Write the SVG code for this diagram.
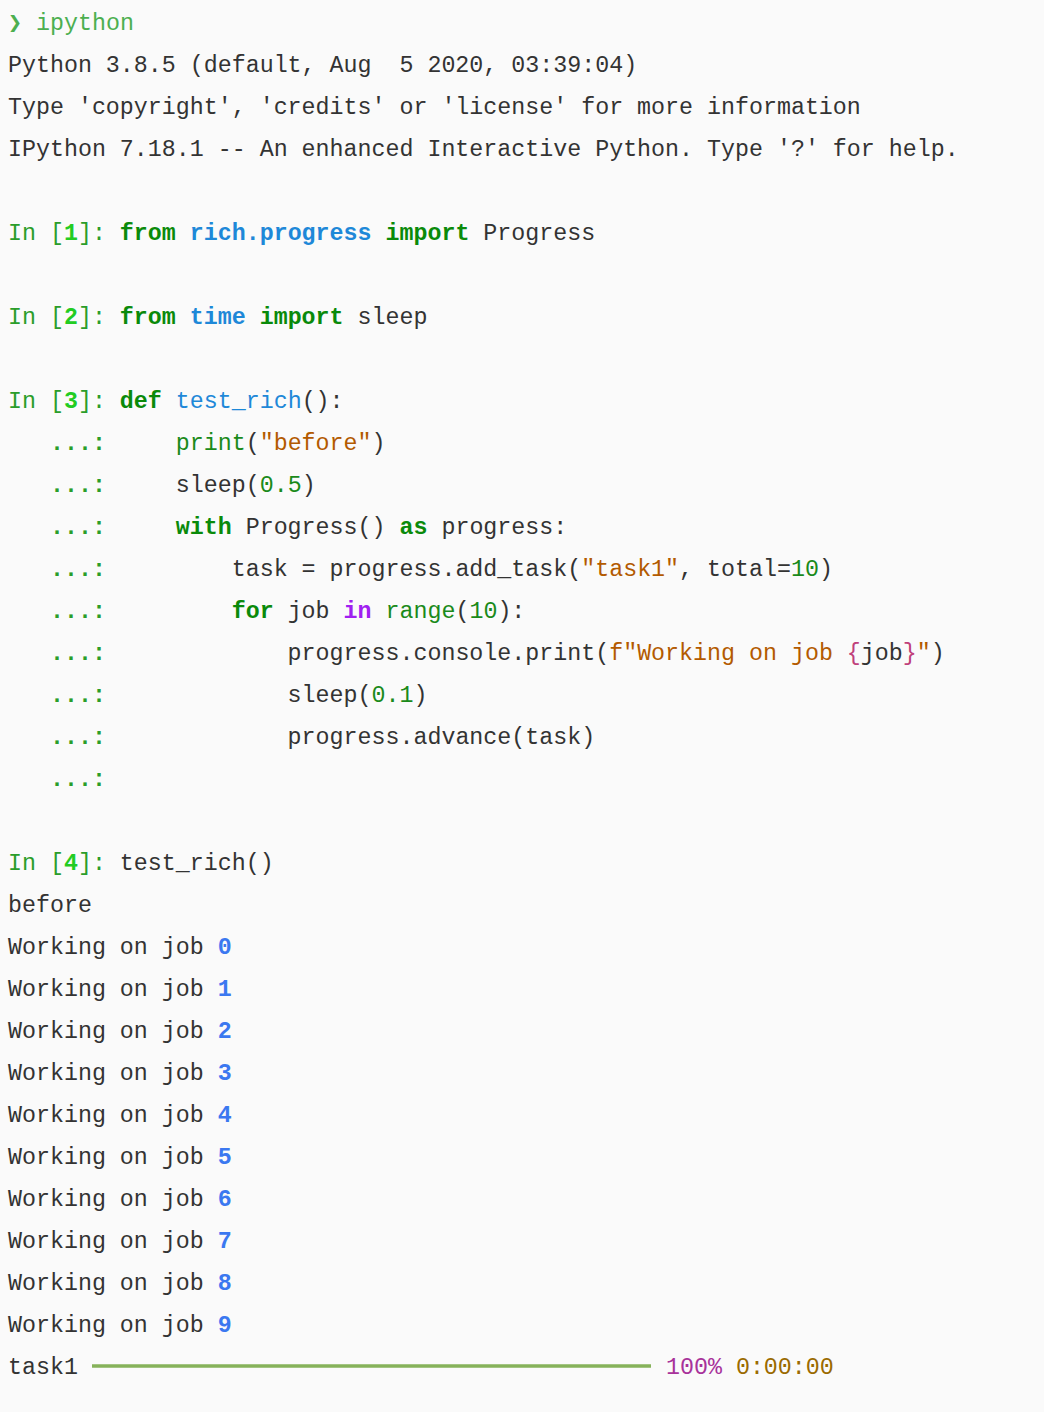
<svg xmlns="http://www.w3.org/2000/svg" width="1044" height="1412" viewBox="0 0 1044 1412">
<style>
text{font-family:"Liberation Mono","DejaVu Sans Mono",monospace;font-size:23.3px;fill:#333;white-space:pre}
.g{fill:#2a9d2a}.ng{fill:#22cc22;font-weight:bold}.k{fill:#0a8a0a;font-weight:bold}.b{fill:#1e88d8}.bb{fill:#1e88d8;font-weight:bold}
.s{fill:#b35a00}.n{fill:#1a8a1a}.p{fill:#a020f0;font-weight:bold}.d{fill:#2a9d2a;font-weight:bold}.j{fill:#3b78f0;font-weight:bold}
.f{fill:#c0407a}.pc{fill:#a8329a}.t{fill:#9a6a00}.pr{fill:#4caf50}
</style>
<rect width="1044" height="1412" fill="#fafafa"/>
<g id="terminal" xml:space="preserve">
<text x="8" y="30"><tspan class="pr">❯ ipython</tspan></text>
<text x="8" y="72">Python 3.8.5 (default, Aug  5 2020, 03:39:04)</text>
<text x="8" y="114">Type 'copyright', 'credits' or 'license' for more information</text>
<text x="8" y="156">IPython 7.18.1 -- An enhanced Interactive Python. Type '?' for help.</text>
<text x="8" y="240"><tspan class="g">In [</tspan><tspan class="ng">1</tspan><tspan class="g">]: </tspan><tspan class="k">from</tspan> <tspan class="bb">rich.progress</tspan> <tspan class="k">import</tspan> Progress</text>
<text x="8" y="324"><tspan class="g">In [</tspan><tspan class="ng">2</tspan><tspan class="g">]: </tspan><tspan class="k">from</tspan> <tspan class="bb">time</tspan> <tspan class="k">import</tspan> sleep</text>
<text x="8" y="408"><tspan class="g">In [</tspan><tspan class="ng">3</tspan><tspan class="g">]: </tspan><tspan class="k">def</tspan> <tspan class="b">test_rich</tspan>():</text>
<text x="8" y="450"><tspan class="d">   ...:</tspan>     <tspan class="n">print</tspan>(<tspan class="s">"before"</tspan>)</text>
<text x="8" y="492"><tspan class="d">   ...:</tspan>     sleep(<tspan class="n">0.5</tspan>)</text>
<text x="8" y="534"><tspan class="d">   ...:</tspan>     <tspan class="k">with</tspan> Progress() <tspan class="k">as</tspan> progress:</text>
<text x="8" y="576"><tspan class="d">   ...:</tspan>         task = progress.add_task(<tspan class="s">"task1"</tspan>, total=<tspan class="n">10</tspan>)</text>
<text x="8" y="618"><tspan class="d">   ...:</tspan>         <tspan class="k">for</tspan> job <tspan class="p">in</tspan> <tspan class="n">range</tspan>(<tspan class="n">10</tspan>):</text>
<text x="8" y="660"><tspan class="d">   ...:</tspan>             progress.console.print(<tspan class="s">f"Working on job </tspan><tspan class="f">{</tspan>job<tspan class="f">}</tspan><tspan class="s">"</tspan>)</text>
<text x="8" y="702"><tspan class="d">   ...:</tspan>             sleep(<tspan class="n">0.1</tspan>)</text>
<text x="8" y="744"><tspan class="d">   ...:</tspan>             progress.advance(task)</text>
<text x="8" y="786"><tspan class="d">   ...:</tspan></text>
<text x="8" y="870"><tspan class="g">In [</tspan><tspan class="ng">4</tspan><tspan class="g">]: </tspan>test_rich()</text>
<text x="8" y="912">before</text>
<text x="8" y="954">Working on job <tspan class="j">0</tspan></text>
<text x="8" y="996">Working on job <tspan class="j">1</tspan></text>
<text x="8" y="1038">Working on job <tspan class="j">2</tspan></text>
<text x="8" y="1080">Working on job <tspan class="j">3</tspan></text>
<text x="8" y="1122">Working on job <tspan class="j">4</tspan></text>
<text x="8" y="1164">Working on job <tspan class="j">5</tspan></text>
<text x="8" y="1206">Working on job <tspan class="j">6</tspan></text>
<text x="8" y="1248">Working on job <tspan class="j">7</tspan></text>
<text x="8" y="1290">Working on job <tspan class="j">8</tspan></text>
<text x="8" y="1332">Working on job <tspan class="j">9</tspan></text>
<text x="8" y="1374">task1</text>
<line x1="92" y1="1366" x2="651" y2="1366" stroke="#86b25a" stroke-width="3.5"/>
<text x="666" y="1374"><tspan class="pc">100%</tspan> <tspan class="t">0:00:00</tspan></text>
</g>
</svg>
